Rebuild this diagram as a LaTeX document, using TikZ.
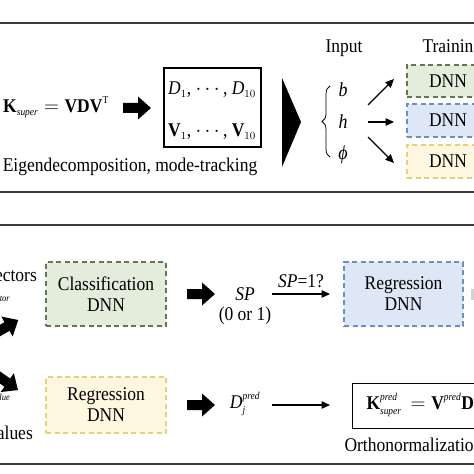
\documentclass[tikz,border=0pt]{standalone}
\usepackage{fontspec}
\setmainfont{Liberation Serif}[FakeStretch=0.9]
\usepackage{amsmath}
\usetikzlibrary{arrows.meta,decorations.pathreplacing}
\DeclareMathSizes{19.5}{19.5}{10.5}{8}
\definecolor{gfill}{RGB}{228,236,220}
\definecolor{gdraw}{RGB}{95,120,80}
\definecolor{bfill}{RGB}{222,231,246}
\definecolor{bdraw}{RGB}{105,145,190}
\definecolor{yfill}{RGB}{255,247,224}
\definecolor{ydraw}{RGB}{230,208,120}
\definecolor{framec}{RGB}{60,60,60}
\newcommand\itx[1]{\text{\itshape #1}}
\newcommand\bfx[1]{\text{\bfseries #1}}
\tikzset{
  frameline/.style={draw=framec,line width=1.6bp},
  solidbox/.style={draw=black,line width=1.1bp,inner sep=0pt},
  dashbox/.style={line width=1.2bp,dash pattern=on 5bp off 3.5bp,inner sep=0pt,align=center},
  thinarrow/.style={line width=1.3bp,-{Triangle[length=8.5bp,width=7.5bp]}},
  smalllab/.style={font=\fontsize{9.5}{11}\selectfont\itshape,inner sep=0pt},
  varlab/.style={font=\fontsize{20}{22}\selectfont\itshape},
  blockarr/.pic={\fill[black] (0,-5) -- (15,-5) -- (15,-11.5) -- (28,0) -- (15,11.5) -- (15,5) -- (0,5) -- cycle;}
}
\begin{document}
\begin{tikzpicture}[x=1bp,y=-1bp,font=\fontsize{19.5}{21}\selectfont]
\useasboundingbox (0,0) rectangle (474,474);
\clip (0,0) rectangle (474,474);
% ---------- top panel ----------
\draw[frameline] (-5,23) -- (480,23);
\draw[frameline] (-5,192) -- (480,192);
\node (kdec) at (56,107) {$\bfx{K}_{\itx{super}} = \bfx{VDV}^{\text{T}}$};
\pic at (123,108) {blockarr};
\node[solidbox,minimum width=97bp,minimum height=79bp] (eig) at (212.5,107.5) {};
\node (dlist) at (212,90) {\textit{D}$_1$, $\cdots$, \textit{D}$_{10}$};
\node (vlist) at (212,132) {\textbf{V}$_1$, $\cdots$, \textbf{V}$_{10}$};
\node (eigtxt) at (130,167) {Eigendecomposition, mode-tracking};
\fill[black] (282,78) -- (301,122) -- (282,167) -- cycle;
\draw[line width=0.8bp,decorate,decoration={brace,amplitude=8bp}] (330,157) -- (330,86);
\node[varlab] (inb) at (343,90) {b};
\node[varlab] (inh) at (343,122) {h};
\node[varlab] (inphi) at (343,155) {ϕ};
\node (input) at (344,48) {Input};
\node[anchor=west] (train) at (419,48) {Training};
\node[dashbox,fill=gfill,draw=gdraw,minimum width=82bp,minimum height=32bp] (dnn1) at (448,81) {DNN};
\node[dashbox,fill=bfill,draw=bdraw,minimum width=82bp,minimum height=33bp] (dnn2) at (448,120.5) {DNN};
\node[dashbox,fill=yfill,draw=ydraw,minimum width=82bp,minimum height=33bp] (dnn3) at (448,161.5) {DNN};
\coordinate (a1s) at (368,105); \coordinate (a1e) at (394,79);
\coordinate (a2s) at (368,122); \coordinate (a2e) at (394,122);
\coordinate (a3s) at (368,137); \coordinate (a3e) at (394,163);
\draw[thinarrow] (a1s) -- (a1e);
\draw[thinarrow] (a2s) -- (a2e);
\draw[thinarrow] (a3s) -- (a3e);
% ---------- lower panel ----------
\draw[frameline] (-5,225) -- (480,225);
\draw[frameline] (-5,464) -- (480,464);
\node[anchor=east,inner sep=0pt] (evec) at (37,277) {Eigenvectors};
\node[smalllab,anchor=east] (vlab) at (10,299) {vector};
\pic[rotate=30] at (-6,334) {blockarr};
\pic[rotate=-35] at (-5,374) {blockarr};
\node[smalllab,anchor=east] (ulab) at (10,397) {value};
\node[anchor=east,inner sep=0pt] (evals) at (33,435) {Eigenvalues};
\node[dashbox,fill=gfill,draw=gdraw,minimum width=120bp,minimum height=64bp] (cls) at (106,294) {Classification\\DNN};
\node[dashbox,fill=yfill,draw=ydraw,minimum width=120bp,minimum height=56bp] (reg1) at (106,405) {Regression\\DNN};
\pic at (187,294) {blockarr};
\pic at (187,405) {blockarr};
\node (sp) at (245,294) {\itshape SP};
\node (sp01) at (245,316) {(0 or 1)};
\coordinate (b1s) at (272,294); \coordinate (b1e) at (330,294);
\draw[thinarrow] (b1s) -- (b1e) node[midway,above=2bp] (splab) {\textit{SP}=1?};
\node[dashbox,fill=bfill,draw=bdraw,minimum width=119bp,minimum height=64bp] (reg2) at (403.5,294) {Regression\\DNN};
\fill[gray!35] (471,289) rectangle (476,300);
\node (dj) at (245,404) {$\itx{D}_{\itx{j}}^{\itx{pred}}$};
\coordinate (b2s) at (272,405); \coordinate (b2e) at (330,405);
\draw[thinarrow] (b2s) -- (b2e);
\node[solidbox,anchor=north west,minimum width=170bp,minimum height=45bp] (kbox) at (352,383) {};
\node[anchor=west] (kpred) at (363,405) {$\bfx{K}^{\itx{pred}}_{\itx{super}}\,= \bfx{V}^{\itx{pred}}\bfx{D}^{\itx{pred}}\bfx{V}^{\itx{pred}\,\text{T}}$};
\node[anchor=west] (ortho) at (341,445) {Orthonormalization};
\end{tikzpicture}
\end{document}
